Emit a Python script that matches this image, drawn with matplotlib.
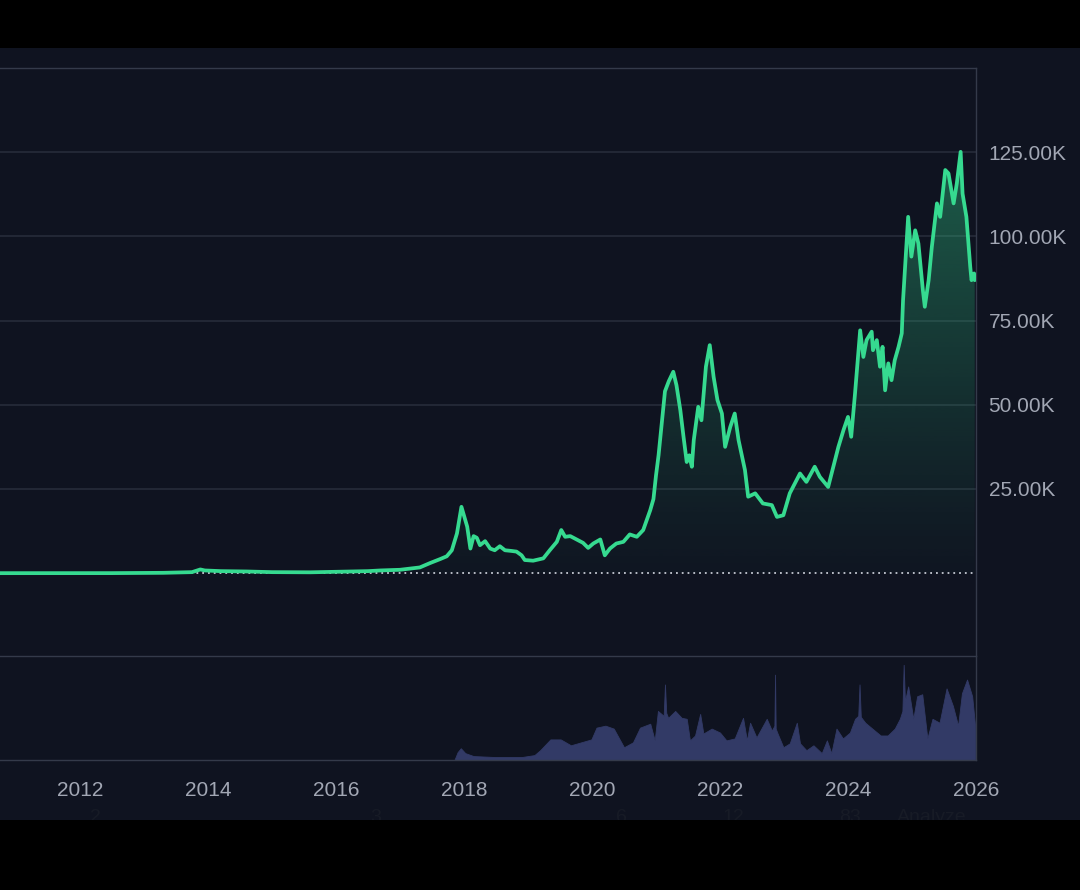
import numpy as np
import matplotlib
matplotlib.use("Agg")
import matplotlib.pyplot as plt
from matplotlib.patches import Rectangle
from matplotlib.ticker import FuncFormatter

# ---------------- data ----------------
price_years = [2010.75, 2011.5, 2012.5, 2013.3, 2013.75, 2013.88, 2013.95, 2014.2, 2014.6, 2015.0,
               2015.6, 2016.0, 2016.5, 2016.69, 2017.0, 2017.31, 2017.47, 2017.63, 2017.73, 2017.81,
               2017.89, 2017.96, 2018.02, 2018.05, 2018.10, 2018.15, 2018.20, 2018.25, 2018.33, 2018.41,
               2018.48, 2018.56, 2018.64, 2018.74, 2018.82, 2018.90, 2018.95, 2019.08, 2019.24, 2019.34,
               2019.45, 2019.52, 2019.58, 2019.66, 2019.76, 2019.86, 2019.94, 2020.02, 2020.13, 2020.20,
               2020.28, 2020.38, 2020.49, 2020.59, 2020.70, 2020.80, 2020.91, 2020.96, 2021.00, 2021.04,
               2021.09, 2021.14, 2021.20, 2021.27, 2021.32, 2021.38, 2021.43, 2021.48, 2021.52, 2021.56,
               2021.59, 2021.66, 2021.71, 2021.78, 2021.84, 2021.90, 2021.96, 2022.03, 2022.08, 2022.16,
               2022.23, 2022.29, 2022.39, 2022.44, 2022.55, 2022.67, 2022.81, 2022.89, 2022.99, 2023.09,
               2023.25, 2023.35, 2023.48, 2023.56, 2023.69, 2023.77, 2023.85, 2023.93, 2024.00, 2024.05,
               2024.11, 2024.19, 2024.24, 2024.29, 2024.37, 2024.39, 2024.45, 2024.50, 2024.54, 2024.58,
               2024.63, 2024.68, 2024.73, 2024.79, 2024.84, 2024.86, 2024.94, 2024.99, 2025.05, 2025.10,
               2025.17, 2025.20, 2025.26, 2025.31, 2025.39, 2025.44, 2025.52, 2025.57, 2025.65, 2025.70,
               2025.76, 2025.79, 2025.85, 2025.91, 2025.93, 2025.97, 2025.98]
prices_k = [0.0, 0.01, 0.01, 0.1, 0.3, 1.1, 0.8, 0.6, 0.5, 0.3,
            0.25, 0.4, 0.6, 0.8, 1.0, 1.7, 3.0, 4.2, 5.0, 6.8,
            11.8, 19.7, 15.7, 13.8, 7.3, 11.0, 10.5, 8.3, 9.5, 7.3,
            6.8, 8.0, 6.8, 6.6, 6.4, 5.3, 3.9, 3.7, 4.4, 6.8,
            9.3, 12.8, 10.8, 11.0, 10.0, 9.0, 7.5, 8.8, 10.0, 5.3,
            7.3, 8.8, 9.3, 11.5, 10.8, 12.8, 18.7, 22.0, 29.0, 35.0,
            44.4, 54.0, 57.0, 59.8, 55.8, 48.4, 40.5, 33.0, 35.0, 31.6,
            39.5, 49.4, 45.4, 61.3, 67.7, 58.3, 51.4, 47.4, 37.5, 43.4,
            47.4, 39.5, 30.6, 22.7, 23.7, 20.7, 20.2, 16.7, 17.2, 23.7,
            29.6, 27.1, 31.6, 28.6, 25.6, 31.6, 37.5, 42.5, 46.4, 40.5,
            53.4, 72.1, 64.2, 69.2, 71.7, 66.2, 69.2, 61.3, 67.2, 54.3,
            62.3, 57.3, 63.2, 67.2, 71.2, 81.0, 105.8, 94.0, 101.8, 97.9,
            84.0, 79.1, 87.0, 96.9, 109.8, 105.8, 119.7, 118.7, 109.8, 115.7,
            125.1, 112.7, 105.8, 91.0, 87.0, 89.0, 87.0]

volume_years = [2017.85, 2017.90, 2017.95, 2018.02, 2018.15, 2018.5, 2018.9, 2019.1, 2019.19, 2019.35,
                2019.51, 2019.67, 2019.83, 2019.99, 2020.07, 2020.21, 2020.34, 2020.50, 2020.64, 2020.75,
                2020.91, 2020.98, 2021.03, 2021.12, 2021.14, 2021.16, 2021.19, 2021.30, 2021.40, 2021.48,
                2021.53, 2021.61, 2021.69, 2021.74, 2021.87, 2022.00, 2022.10, 2022.23, 2022.36, 2022.42,
                2022.47, 2022.57, 2022.73, 2022.81, 2022.85, 2022.86, 2022.87, 2022.90, 2022.99, 2023.09,
                2023.20, 2023.25, 2023.35, 2023.46, 2023.59, 2023.67, 2023.74, 2023.82, 2023.92, 2024.03,
                2024.11, 2024.16, 2024.18, 2024.20, 2024.27, 2024.38, 2024.51, 2024.62, 2024.73, 2024.81,
                2024.85, 2024.87, 2024.89, 2024.94, 2025.02, 2025.08, 2025.16, 2025.24, 2025.32, 2025.43,
                2025.54, 2025.64, 2025.72, 2025.78, 2025.86, 2025.94, 2025.99]
volumes = [0, 8, 12, 7, 4, 3, 3, 5, 10, 21,
           21, 15, 18, 21, 33, 35, 32, 13, 18, 33,
           37, 20, 50, 45, 77, 48, 43, 50, 43, 42,
           20, 25, 47, 27, 32, 28, 20, 22, 43, 20,
           38, 23, 42, 30, 35, 87, 32, 27, 13, 17,
           38, 17, 10, 15, 7, 20, 7, 32, 22, 28,
           42, 45, 77, 44, 38, 32, 25, 25, 32, 42,
           50, 97, 60, 75, 42, 65, 67, 22, 42, 38,
           73, 55, 35, 68, 82, 65, 32]

price_ticks = [25, 50, 75, 100, 125]
year_ticks = [2012, 2014, 2016, 2018, 2020, 2022, 2024, 2026]
ghost_labels = ["2", "3", "6", "12", "83", "Analyze"]
ghost_x_px = [95, 376, 621, 733, 850, 932]

# ---------------- style ----------------
BG = "#0f1320"
GRID = "#282e3c"
SPINE = "#343a4a"
LINE = "#36da90"
TXT = "#a2a7b4"
VOL = "#323a66"
W, H = 1080, 890
FONT = ["Liberation Sans", "DejaVu Sans"]
plt.rcParams["font.family"] = FONT

fig = plt.figure(figsize=(W / 100, H / 100), dpi=100, facecolor="black")
fig.patches.append(Rectangle((0, 1 - 820 / H), 1, (820 - 48) / H, transform=fig.transFigure,
                             facecolor=BG, edgecolor="none", zorder=-5))

right = 976 / W
ax = fig.add_axes([0, 1 - 656 / H, right, (656 - 68) / H])
axv = fig.add_axes([0, 1 - 760 / H, right, (760 - 656) / H], sharex=ax)
for a in (ax, axv):
    a.set_facecolor("none")
    a.spines["left"].set_visible(False)
    for s in ("top", "right", "bottom"):
        a.spines[s].set_color(SPINE)
        a.spines[s].set_linewidth(1.0)
axv.spines["top"].set_visible(False)

xmin, xmax = 2010.75, 2026.0

# gradient fill under price
grad = np.linspace(0, 1, 256)[:, None]
rgba = np.zeros((256, 1, 4))
rgba[..., 0] = 0x34 / 255
rgba[..., 1] = 0xd7 / 255
rgba[..., 2] = 0x8e / 255
rgba[..., 3] = 0.02 + 0.38 * grad ** 1.2
im = ax.imshow(rgba, extent=[xmin, xmax, 0, 130], origin="lower", aspect="auto",
               zorder=1, interpolation="bilinear")
poly = ax.fill_between(price_years, prices_k, 0, facecolor="none", edgecolor="none")
im.set_clip_path(poly.get_paths()[0], transform=ax.transData)

# grid
for t in price_ticks:
    ax.axhline(t, color=GRID, lw=1.1, zorder=0.5)
ax.axhline(0, color="#c5c9d3", lw=1.3, linestyle=(0, (1, 2.2)), zorder=2)

ax.plot(price_years, prices_k, color=LINE, lw=2.7, zorder=3,
        solid_joinstyle="round", solid_capstyle="round")

ax.set_xlim(xmin, xmax)
ax.set_ylim(-24.6, 150)
ax.yaxis.tick_right()
ax.set_yticks(price_ticks)
ax.yaxis.set_major_formatter(FuncFormatter(lambda v, p: f"{v:.2f}K"))
ax.tick_params(axis="y", length=0, pad=9, labelsize=15, labelcolor=TXT)
ax.tick_params(axis="x", length=0, labelbottom=False)

# volume
axv.fill_between(volume_years, volumes, 0, facecolor=VOL, edgecolor=VOL, lw=0.6, zorder=2)
axv.set_ylim(0, 106)
axv.set_yticks([])
axv.set_xticks(year_ticks)
axv.set_xticklabels([str(y) for y in year_ticks])
axv.tick_params(axis="x", length=0, pad=15, labelsize=15, labelcolor=TXT)
axv.set_xlim(xmin, xmax)

# faint ghost texts near bottom edge
for lbl, xp in zip(ghost_labels, ghost_x_px):
    fig.text(xp / W, 1 - 818 / H, lbl, color="#171b26", fontsize=14, ha="center", va="center",
             zorder=5)

# black bands
fig.patches.append(Rectangle((0, 0), 1, 70 / H, transform=fig.transFigure,
                             facecolor="black", edgecolor="none", zorder=20))
fig.patches.append(Rectangle((0, 1 - 48 / H), 1, 48 / H, transform=fig.transFigure,
                             facecolor="black", edgecolor="none", zorder=20))

fig.savefig("out.png", dpi=100, facecolor="black")
